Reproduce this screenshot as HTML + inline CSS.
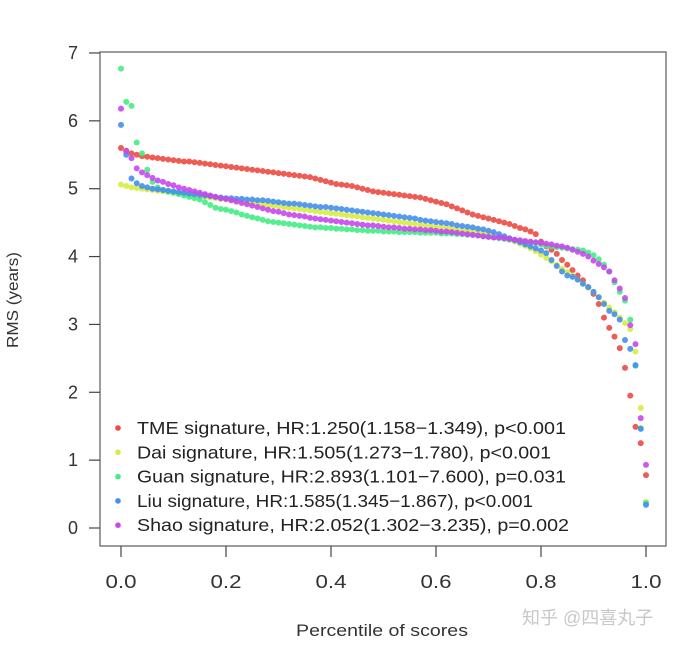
<!DOCTYPE html>
<html><head><meta charset="utf-8"><style>
body{margin:0;background:#fff;width:690px;height:646px;overflow:hidden}
svg{display:block;font-family:"Liberation Sans",Arial,sans-serif}
</style></head><body>
<svg id="chart" width="690" height="646">
<rect x="100" y="52" width="566" height="494" fill="none" stroke="#666" stroke-width="1.3"/>
<g id="axes"></g>
<g id="dots"></g>
<g id="legend"></g>
<text x="18" y="300" transform="rotate(-90 18 300)" text-anchor="middle" font-size="16" fill="#333" textLength="96" lengthAdjust="spacingAndGlyphs">RMS (years)</text>
<text x="382" y="636" text-anchor="middle" font-size="17" fill="#333" textLength="172" lengthAdjust="spacingAndGlyphs">Percentile of scores</text>
<text x="522" y="624" font-size="18" fill="#c8c8c8" font-family="'Liberation Sans','Noto Sans CJK SC',sans-serif">知乎 @四喜丸子</text>
</svg>
<script>
const xTicks=[0,0.2,0.4,0.6,0.8,1.0];
const xTickLabels=["0.0","0.2","0.4","0.6","0.8","1.0"];
const yTicks=[0,1,2,3,4,5,6,7];
const seriesNames=["TME signature, HR:1.250(1.158\u22121.349), p<0.001","Dai signature, HR:1.505(1.273\u22121.780), p<0.001","Guan signature, HR:2.893(1.101\u22127.600), p=0.031","Liu signature, HR:1.585(1.345\u22121.867), p<0.001","Shao signature, HR:2.052(1.302\u22123.235), p=0.002"];
const legendWidths=[429,414,429,396,432];
const seriesColors=["#ec4a44","#d6ec44","#44ec84","#4490ec","#c848ec"];
const tme=[5.60,5.56,5.52,5.50,5.48,5.47,5.46,5.45,5.44,5.43,5.42,5.41,5.40,5.40,5.39,5.38,5.37,5.36,5.35,5.34,5.33,5.32,5.31,5.30,5.29,5.28,5.27,5.26,5.25,5.24,5.23,5.22,5.21,5.20,5.19,5.18,5.17,5.15,5.13,5.11,5.09,5.07,5.06,5.05,5.04,5.02,5.00,4.98,4.96,4.95,4.94,4.93,4.92,4.91,4.90,4.89,4.88,4.87,4.85,4.83,4.81,4.79,4.77,4.74,4.71,4.68,4.65,4.62,4.60,4.58,4.56,4.54,4.52,4.50,4.48,4.45,4.42,4.40,4.37,4.33,4.22,4.15,4.10,4.04,3.95,3.88,3.80,3.72,3.65,3.55,3.45,3.30,3.10,2.95,2.82,2.65,2.36,1.95,1.49,1.25,0.78];
const dai=[5.06,5.04,5.02,5.01,5.00,4.99,4.98,4.97,4.96,4.95,4.94,4.93,4.92,4.91,4.90,4.89,4.88,4.87,4.86,4.85,4.84,4.83,4.82,4.81,4.80,4.79,4.78,4.77,4.76,4.75,4.74,4.73,4.72,4.71,4.70,4.69,4.68,4.67,4.66,4.65,4.64,4.63,4.62,4.61,4.60,4.59,4.58,4.57,4.56,4.55,4.54,4.53,4.52,4.51,4.50,4.49,4.48,4.47,4.46,4.45,4.44,4.43,4.42,4.41,4.40,4.39,4.38,4.37,4.36,4.35,4.33,4.31,4.29,4.27,4.25,4.22,4.19,4.16,4.12,4.08,4.03,3.98,3.93,3.88,3.82,3.77,3.72,3.66,3.60,3.54,3.48,3.40,3.32,3.25,3.18,3.10,3.02,2.93,2.60,1.77,0.38];
const guan=[6.77,6.28,6.22,5.68,5.52,5.28,5.10,5.02,4.98,4.96,4.94,4.92,4.90,4.88,4.86,4.84,4.80,4.76,4.72,4.70,4.69,4.67,4.65,4.62,4.60,4.58,4.56,4.54,4.52,4.51,4.50,4.49,4.48,4.47,4.46,4.45,4.44,4.43,4.43,4.42,4.42,4.41,4.41,4.40,4.40,4.39,4.39,4.38,4.38,4.38,4.37,4.37,4.37,4.36,4.36,4.36,4.36,4.35,4.35,4.35,4.35,4.34,4.34,4.34,4.33,4.33,4.32,4.32,4.31,4.30,4.29,4.28,4.27,4.26,4.25,4.24,4.23,4.22,4.21,4.20,4.18,4.16,4.15,4.14,4.13,4.12,4.11,4.10,4.09,4.06,4.02,3.96,3.88,3.78,3.62,3.48,3.35,3.07,2.39,1.47,0.37];
const liu=[5.94,5.50,5.15,5.08,5.04,5.02,5.00,4.99,4.98,4.97,4.96,4.95,4.94,4.93,4.92,4.91,4.90,4.89,4.88,4.87,4.86,4.86,4.85,4.85,4.84,4.84,4.83,4.83,4.82,4.81,4.80,4.79,4.78,4.78,4.77,4.76,4.75,4.74,4.73,4.73,4.72,4.71,4.70,4.69,4.68,4.67,4.66,4.65,4.64,4.63,4.62,4.61,4.60,4.59,4.58,4.57,4.56,4.54,4.53,4.52,4.51,4.50,4.49,4.48,4.46,4.45,4.44,4.43,4.41,4.40,4.38,4.36,4.33,4.30,4.27,4.24,4.21,4.18,4.15,4.12,4.09,4.05,3.95,3.86,3.78,3.72,3.70,3.66,3.60,3.55,3.48,3.40,3.30,3.20,3.15,3.07,2.77,2.64,2.40,1.46,0.34];
const shao=[6.18,5.55,5.45,5.30,5.24,5.20,5.16,5.12,5.10,5.07,5.05,5.02,5.00,4.98,4.96,4.94,4.92,4.90,4.88,4.86,4.85,4.83,4.81,4.79,4.77,4.75,4.73,4.71,4.69,4.67,4.66,4.64,4.62,4.61,4.60,4.59,4.57,4.56,4.55,4.54,4.53,4.52,4.51,4.50,4.49,4.48,4.47,4.46,4.46,4.45,4.44,4.43,4.43,4.42,4.41,4.41,4.40,4.40,4.39,4.39,4.38,4.37,4.37,4.36,4.35,4.34,4.33,4.32,4.31,4.30,4.29,4.28,4.28,4.27,4.26,4.25,4.24,4.23,4.22,4.21,4.20,4.19,4.18,4.16,4.15,4.13,4.10,4.07,4.04,4.00,3.94,3.89,3.84,3.78,3.65,3.53,3.39,2.99,2.71,1.62,0.93];
const allSeries=[tme,dai,guan,liu,shao];
const seriesKeys=["tme","dai","guan","liu","shao"];

const NS="http://www.w3.org/2000/svg";
function sx(v){return 121+v*525;}
function sy(v){return 528-v*67.86;}
function mk(tag,attrs,parent){const e=document.createElementNS(NS,tag);for(const k in attrs)e.setAttribute(k,attrs[k]);parent.appendChild(e);return e;}
const axes=document.getElementById('axes');
xTicks.forEach((t,i)=>{
  const l=mk('line',{x1:sx(t),x2:sx(t),y1:546,y2:557,stroke:'#444','stroke-width':1.2},axes);
  
  
  const tx=mk('text',{x:sx(t),y:588,'text-anchor':'middle','font-size':18,fill:'#333',textLength:31,lengthAdjust:'spacingAndGlyphs'},axes);
  tx.textContent=xTickLabels[i];
  
  
});
yTicks.forEach(t=>{
  const l=mk('line',{x1:89,x2:100,y1:sy(t),y2:sy(t),stroke:'#444','stroke-width':1.2},axes);
  
  
  const tx=mk('text',{x:78,y:sy(t)+6,'text-anchor':'end','font-size':18,fill:'#333'},axes);
  tx.textContent=String(t);
  
  
});
const dots=document.getElementById('dots');
allSeries.forEach((s,si)=>{
  const g=mk('g',{},dots);
  
  
  const n=s.length;
  s.forEach((v,i)=>{
    const c=mk('circle',{cx:sx(i/(n-1)),cy:sy(v),r:3,fill:seriesColors[si],'fill-opacity':0.9},g);
    
    
  });
});
const lg=document.getElementById('legend');
seriesNames.forEach((nm,i)=>{
  const y=428+i*24.3;
  const c=mk('circle',{cx:118,cy:y,r:2.8,fill:seriesColors[i]},lg);
  
  
  const t=mk('text',{x:137,y:y+6,'font-size':17.5,fill:'#222',textLength:legendWidths[i],lengthAdjust:'spacingAndGlyphs'},lg);
  t.textContent=nm;
  
  
});
</script>
</body></html>
